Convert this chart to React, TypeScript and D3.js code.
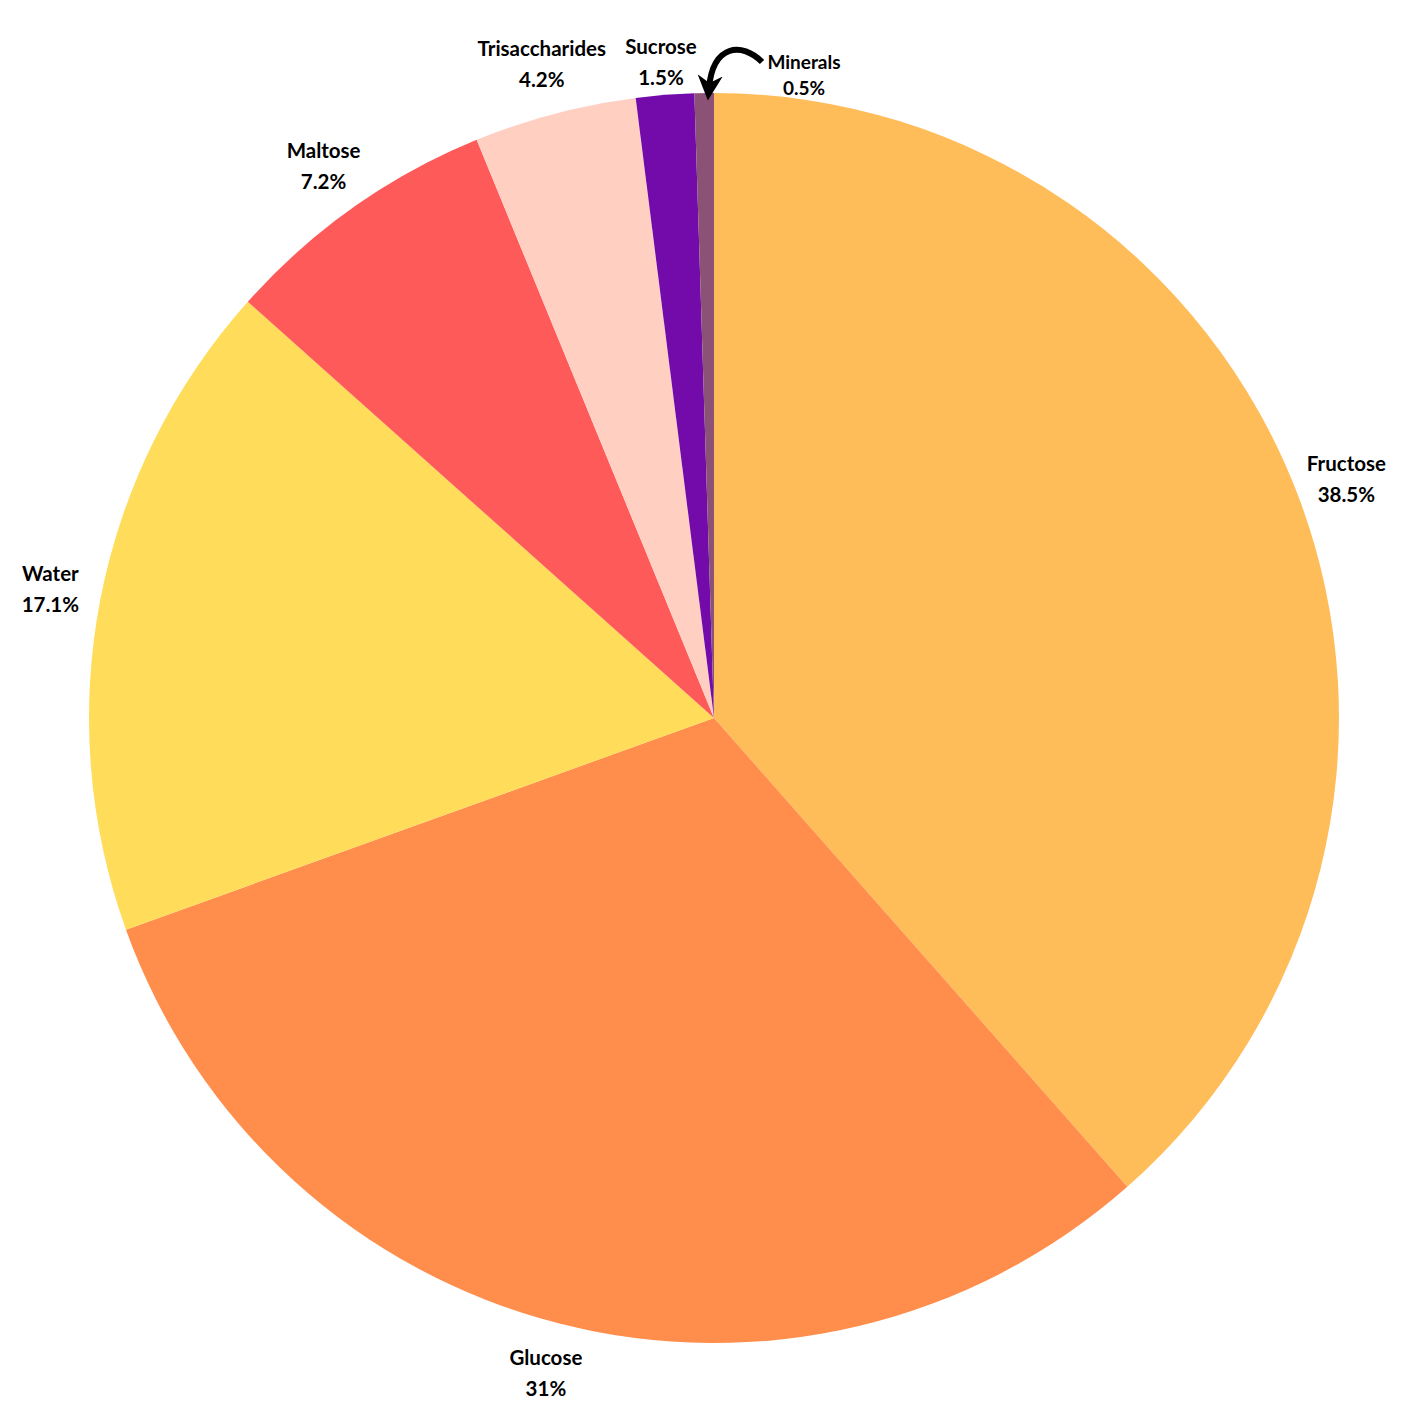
import React from "react";
import * as d3 from "d3";

const categories = ["Fructose", "Glucose", "Water", "Maltose", "Trisaccharides", "Sucrose", "Minerals"];
const values = [38.5, 31, 17.1, 7.2, 4.2, 1.5, 0.5];
const colors = ["#FFBD59", "#FF8E4C", "#FFDC59", "#FF5A5A", "#FFCFC2", "#730BAB", "#8B5275"];

const W = 1420;
const H = 1416;
const cx = 714;
const cy = 718;
const R = 625;
const labelR = 676;

export default function App() {
  const data = categories.map((c, i) => ({ name: c, value: values[i], color: colors[i] }));
  const pie = d3.pie<any>().value((d: any) => d.value).sort(null).startAngle(0).endAngle(2 * Math.PI);
  const arcs = pie(data);
  const arc = d3.arc<any>().innerRadius(0).outerRadius(R);
  const labelArc = d3.arc<any>().innerRadius(labelR).outerRadius(labelR);

  return (
    <svg width={W} height={H} style={{ position: "absolute", left: 0, top: 0 }}>
      <defs>
        <marker id="ah" viewBox="0 0 10 10" refX="5" refY="5" markerWidth="4.2" markerHeight="4.2" orient="auto">
          <path d="M0,0 L10,5 L0,10 L3,5 z" fill="#000" />
        </marker>
      </defs>
      <g transform={`translate(${cx},${cy})`}>
        {arcs.map((a, i) => (
          <path key={i} d={arc(a) as string} fill={a.data.color} />
        ))}
        {arcs.map((a, i) => {
          let [x, y] = labelArc.centroid(a);
          const name = a.data.name;
          if (name === "Sucrose") y += 18;
          if (name === "Minerals") { x = 90; y = -645; }
          return (
            <text
              key={"l" + i}
              x={x}
              y={y}
              textAnchor="middle"
              fontFamily="Lato, 'Open Sans', sans-serif"
              fontWeight="bold"
              fontSize={name === "Minerals" ? 19 : 20.5}
              fill="#000"
            >
              <tspan x={x} dy={name === "Minerals" ? -4 : -8}>{name}</tspan>
              <tspan x={x} dy={name === "Minerals" ? 26 : 31}>{a.data.value}%</tspan>
            </text>
          );
        })}
        <path
          d={`M${762 - cx},${62 - cy} C${742 - cx},${42 - cy} ${713 - cx},${44 - cy} ${709 - cx},${88 - cy}`}
          fill="none"
          stroke="#000"
          strokeWidth={6}
          markerEnd="url(#ah)"
        />
      </g>
    </svg>
  );
}
